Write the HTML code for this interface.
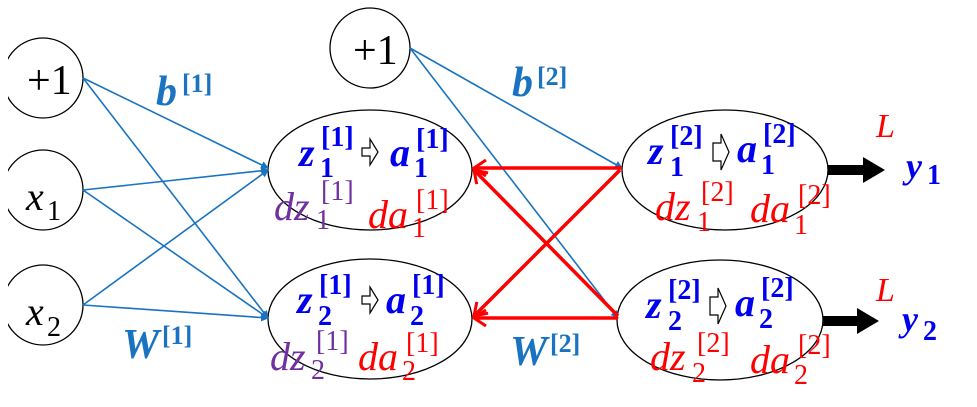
<!DOCTYPE html>
<html><head><meta charset="utf-8"><style>
html,body{margin:0;padding:0;background:#fff;}
svg{display:block;}
text{font-family:"Liberation Serif",serif;}
.b{font-weight:bold;font-style:italic;fill:#0000ee;font-size:40px;}
.bs{font-weight:bold;fill:#0000ee;font-style:normal;font-size:28px;}
.i{font-style:italic;font-size:40px;}
.s{font-size:28px;font-style:normal;}
</style></head><body>
<svg width="977" height="407" viewBox="0 0 977 407" xmlns="http://www.w3.org/2000/svg">
<defs>
<marker id="ba" markerWidth="8" markerHeight="8" refX="7" refY="4" orient="auto" markerUnits="userSpaceOnUse"><path d="M0,0 L8,4 L0,8 z" fill="#1a73c0"/></marker>
<marker id="ra" markerWidth="16" markerHeight="18" refX="13" refY="9" orient="auto" markerUnits="userSpaceOnUse"><path d="M1,1 L13,9 L1,17" fill="none" stroke="#ff0000" stroke-width="3"/></marker>
</defs>
<g fill="none" stroke="#000" stroke-width="1.3">
<circle cx="43" cy="78" r="40"/><circle cx="43" cy="190" r="40"/><circle cx="43" cy="305" r="40"/>
<circle cx="370" cy="48" r="40"/>
<ellipse cx="370" cy="170" rx="102" ry="60"/><ellipse cx="370" cy="319" rx="102" ry="60"/>
<ellipse cx="725" cy="170" rx="103" ry="60"/><ellipse cx="720" cy="320" rx="103" ry="60"/>
</g>
<rect x="0" y="30" width="8" height="320" fill="#fff"/>
<g stroke="#1a73c0" stroke-width="1.6" marker-end="url(#ba)">
<line x1="83" y1="78" x2="268" y2="168"/><line x1="83" y1="78" x2="268" y2="318"/>
<line x1="83" y1="190" x2="268" y2="170"/><line x1="83" y1="190" x2="268" y2="318"/>
<line x1="83" y1="305" x2="268" y2="170"/><line x1="83" y1="305" x2="268" y2="318"/>
<line x1="410" y1="48" x2="622" y2="168"/><line x1="410" y1="48" x2="618" y2="318"/>
</g>
<g stroke="#ff0000" stroke-width="3.5" marker-end="url(#ra)">
<line x1="622" y1="168" x2="474" y2="168"/><line x1="618" y1="318" x2="474" y2="318"/>
<line x1="620" y1="170" x2="474" y2="316"/><line x1="618" y1="316" x2="474" y2="170"/>
</g>
<path d="M828,165 L863,165 L863,157 L885,170 L863,183 L863,175 L828,175z" fill="#000"/>
<path d="M823,316 L857,316 L857,308 L879,321 L857,334 L857,326 L823,326z" fill="#000"/>
<g fill="#000">
<text x="27" y="94" style="font-size:42px">+1</text><text x="353" y="64" style="font-size:42px">+1</text>
<text x="26" y="210" class="i">x</text><text x="47" y="220" class="s">1</text>
<text x="26" y="325" class="i">x</text><text x="47" y="336" class="s">2</text>
</g>
<g fill="#1a73c0" font-weight="bold">
<text x="156" y="105" style="font-size:42px;font-style:italic">b</text><text x="182" y="92" style="font-size:26px">[1]</text>
<text x="122" y="358" style="font-size:42px;font-style:italic">W</text><text x="162" y="344" style="font-size:26px">[1]</text>
<text x="512" y="96" style="font-size:42px;font-style:italic">b</text><text x="537" y="85" style="font-size:26px">[2]</text>
<text x="510" y="365" style="font-size:42px;font-style:italic">W</text><text x="550" y="352" style="font-size:26px">[2]</text>
</g>
<text x="299" y="166" class="b">z</text><text x="320" y="177" class="bs">1</text><text x="321" y="146" class="bs">[1]</text>
<text x="390" y="166" class="b">a</text><text x="414" y="177" class="bs">1</text><text x="416" y="148" class="bs">[1]</text>
<text x="297" y="313" class="b">z</text><text x="318" y="325" class="bs">2</text><text x="319" y="294" class="bs">[1]</text>
<text x="386" y="313" class="b">a</text><text x="410" y="325" class="bs">2</text><text x="412" y="294" class="bs">[1]</text>
<g fill="#7030a0"><text x="274" y="220" class="i">dz</text><text x="316" y="229" class="s">1</text><text x="321" y="200" class="s">[1]</text>
<text x="270" y="370" class="i">dz</text><text x="311" y="379" class="s">2</text><text x="316" y="350" class="s">[1]</text></g>
<g fill="#ff0000"><text x="368" y="228" class="i">da</text><text x="412" y="237" class="s">1</text><text x="416" y="209" class="s">[1]</text>
<text x="358" y="370" class="i">da</text><text x="402" y="380" class="s">2</text><text x="406" y="352" class="s">[1]</text></g>
<text x="648" y="164" class="b">z</text><text x="670" y="176" class="bs">1</text><text x="670" y="145" class="bs">[2]</text>
<text x="737" y="162" class="b">a</text><text x="761" y="174" class="bs">1</text><text x="763" y="143" class="bs">[2]</text>
<text x="646" y="318" class="b">z</text><text x="668" y="330" class="bs">2</text><text x="668" y="299" class="bs">[2]</text>
<text x="735" y="316" class="b">a</text><text x="759" y="328" class="bs">2</text><text x="761" y="297" class="bs">[2]</text>
<g fill="#ff0000"><text x="655" y="220" class="i">dz</text><text x="697" y="231" class="s">1</text><text x="701" y="201" class="s">[2]</text>
<text x="750" y="222" class="i">da</text><text x="794" y="234" class="s">1</text><text x="798" y="204" class="s">[2]</text>
<text x="650" y="370" class="i">dz</text><text x="692" y="382" class="s">2</text><text x="697" y="352" class="s">[2]</text>
<text x="750" y="373" class="i">da</text><text x="794" y="384" class="s">2</text><text x="798" y="354" class="s">[2]</text>
<text x="876" y="137" style="font-size:34px;font-style:italic">L</text><text x="876" y="301" style="font-size:34px;font-style:italic">L</text></g>
<text x="906" y="178" class="b" style="font-size:36px">y</text><text x="927" y="184" class="bs">1</text>
<text x="902" y="331" class="b" style="font-size:36px">y</text><text x="923" y="340" class="bs">2</text>
<g fill="#fff" stroke="#000" stroke-width="1.2">
<path d="M362,148 L370,148 L370,139 L378,152 L370,165 L370,156 L362,156z"/>
<path d="M362,296 L370,296 L370,287 L378,300 L370,313 L370,304 L362,304z"/>
<path d="M713,143 L721,143 L721,134 L729,152 L721,170 L721,161 L713,161z"/>
<path d="M710,297 L718,297 L718,288 L726,306 L718,324 L718,315 L710,315z"/>
</g>
</svg>
</body></html>
